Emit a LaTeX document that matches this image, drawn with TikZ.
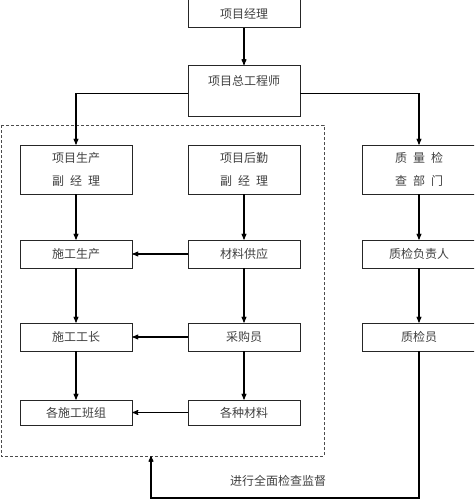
\documentclass[tikz,border=0pt]{standalone}
\usepackage{fontspec}
\setmainfont{Noto Sans CJK SC}
\usetikzlibrary{arrows}

\begin{document}
\begin{tikzpicture}[->,>=stealth',x=1pt,y=-1pt,line width=1.1pt,
                    font=\fontsize{12}{23}\selectfont]
  \tikzstyle{box}=[draw=black!85,line width=0.9pt,text=black!75,minimum width=112pt,
                   inner sep=0pt,align=center]
  \tikzstyle{tall}=[box,minimum height=49pt]
  \tikzstyle{low}=[box,minimum height=28pt]

  \useasboundingbox (0,0) rectangle (474,500);
  \clip (0,0) rectangle (474,500);

  \node[box,anchor=south,text height=30pt,text depth=3pt,inner ysep=6pt] (pm) at (244,28) {项目经理};
  \node[box,anchor=north,text height=14pt,text depth=24pt,inner ysep=6.5pt] (ce) at (244,65) {项目总工程师};

  \node[tall]                      (pa) at (76,169.5)  {项目生产\\副\enspace 经\enspace 理};
  \node[tall]                      (la) at (244,169.5) {项目后勤\\副\enspace 经\enspace 理};
  \node[tall,minimum width=114pt]  (qa) at (419,169.5) {质\enspace 量\enspace 检\\查\enspace 部\enspace 门};

  \node[low]                       (pb) at (76,254)  {施工生产};
  \node[low]                       (lb) at (244,254) {材料供应};
  \node[low,minimum width=114pt]   (qb) at (419,254) {质检负责人};

  \node[low]                       (pc) at (76,337)  {施工工长};
  \node[low]                       (lc) at (244,337) {采购员};
  \node[low,minimum width=114pt]   (qc) at (419,337) {质检员};

  \node[box,minimum height=25pt]   (pd) at (76,412.5)  {各施工班组};
  \node[box,minimum height=25pt]   (ld) at (244,412.5) {各种材料};

  % dashed group round the two left columns
  \draw[-,dash pattern=on 3pt off 2pt,line width=0.9pt,black!70] (1,125) rectangle (324,456);
  \coordinate (grp) at (151,456);
  \coordinate (bend) at (151,498);

  \draw (pm) -- (ce);
  \draw ([yshift=-2.5pt]ce.west) -| (pa.north);
  \draw ([yshift=-2.5pt]ce.east) -| (qa.north);

  \draw (pa) -- (pb);
  \draw (pb) -- (pc);
  \draw (pc) -- (pd);
  \draw (la) -- (lb);
  \draw (lb) -- (lc);
  \draw (lc) -- (ld);
  \draw (qa) -- (qb);
  \draw (qb) -- (qc);

  \draw (lb) -- (pb);
  \draw (lc) -- (pc);
  \draw (ld) -- (pd);

  \draw (qc) |- (bend) -- (grp);
  \node[text=black!75] (note) at (278,481) {进行全面检查监督};
\end{tikzpicture}
\end{document}
